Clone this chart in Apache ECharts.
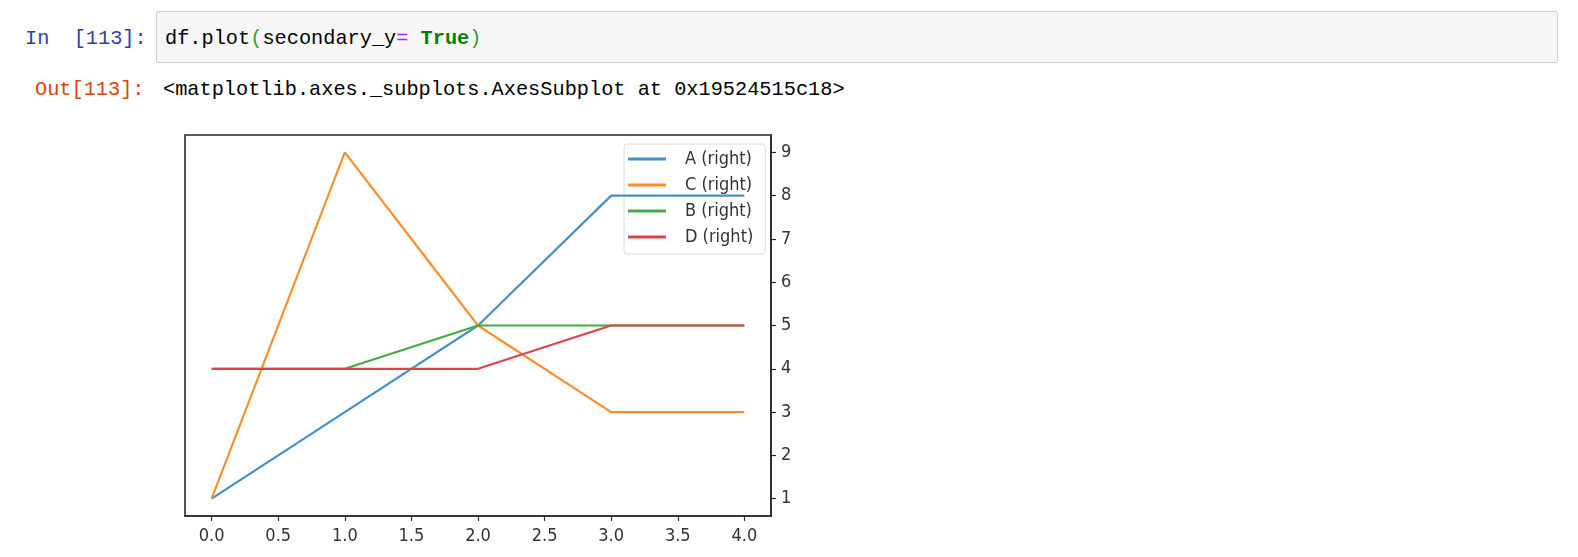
<!DOCTYPE html>
<html>
<head>
<meta charset="utf-8">
<script src="https://cdn.jsdelivr.net/npm/echarts@6/dist/echarts.min.js"></script>
<style>
    body { margin: 0; background: #fff; }
    .page { position: relative; width: 1578px; height: 557px; overflow: hidden; }
    .mono { font-family: "Liberation Mono", "DejaVu Sans Mono", monospace; font-size: 20.3px; position: absolute; white-space: pre; }
    .inPrompt { left: 25px; top: 27px; color: #303F9F; }
    .outPrompt { left: 35px; top: 78px; color: #D84315; }
    .inputBox { position: absolute; left: 156px; top: 11px; width: 1400px; height: 50px; background: #f7f7f7; border: 1px solid #cfcfcf; border-radius: 2px; }
    .code { left: 165px; top: 27px; color: #000; }
    .outText { left: 163px; top: 78px; color: #000; }
    #chart { position: absolute; left: 0; top: 0; width: 1578px; height: 557px; }
</style>
</head>
<body>
<div class="page">
    <div class="mono inPrompt">In  [113]:</div>
    <div class="inputBox"></div>
    <div class="mono code">df.plot<span style="color:#2a9d2a">(</span>secondary_y<span style="color:#AA22FF">=</span> <b style="color:#008000">True</b><span style="color:#2a9d2a">)</span></div>
    <div class="mono outPrompt">Out[113]:</div>
    <div class="mono outText">&lt;matplotlib.axes._subplots.AxesSubplot at 0x19524515c18&gt;</div>
    <div id="chart"></div>
</div>
<script>
    // 数据
    var xValues = [0, 1, 2, 3, 4];
    var seriesA = [1, 3, 5, 8, 8];
    var seriesC = [1, 9, 5, 3, 3];
    var seriesB = [4, 4, 5, 5, 5];
    var seriesD = [4, 4, 4, 5, 5];
    var xTicks = [0, 0.5, 1, 1.5, 2, 2.5, 3, 3.5, 4];
    var yTicks = [1, 2, 3, 4, 5, 6, 7, 8, 9];
    var names = ['A (right)', 'C (right)', 'B (right)', 'D (right)'];
    var colors = ['#4690c6', '#ff8d2b', '#44aa44', '#dd4445'];

    function pairs(vals) {
        return xValues.map(function (x, i) { return [x, vals[i]]; });
    }

    var myChart = echarts.init(document.getElementById('chart'));
    var labelStyle = { fontFamily: '"DejaVu Sans Condensed", "DejaVu Sans"', fontSize: 18, color: '#333' };
    myChart.setOption({
        animation: false,
        grid: {
            left: 185, right: 807, top: 135, bottom: 41,
            show: true, borderColor: '#2a2a2a', borderWidth: 1.6
        },
        legend: {
            data: names,
            orient: 'vertical',
            left: 624,
            top: 144,
            z: 1,
            icon: 'rect',
            itemWidth: 38,
            itemHeight: 3,
            itemGap: 6,
            padding: [5, 12, 7, 4],
            backgroundColor: 'rgba(255,255,255,0.3)',
            borderColor: '#dcdcdc',
            borderWidth: 1,
            borderRadius: 3,
            textStyle: { fontFamily: '"DejaVu Sans Condensed", "DejaVu Sans"', fontSize: 18, color: '#333', lineHeight: 20, padding: [0, 0, 0, 14] }
        },
        xAxis: {
            type: 'value',
            min: -0.2,
            max: 4.2,
            splitLine: { show: false },
            axisLine: { onZero: false, lineStyle: { color: '#2a2a2a', width: 1.6 } },
            axisTick: { show: true, length: 5, lineStyle: { color: '#2a2a2a', width: 1.2 }, customValues: xTicks },
            axisLabel: Object.assign({ margin: 11, customValues: xTicks, formatter: function (v) { return v.toFixed(1); } }, labelStyle)
        },
        yAxis: {
            type: 'value',
            position: 'right',
            min: 0.6,
            max: 9.4,
            splitLine: { show: false },
            axisLine: { show: true, onZero: false, lineStyle: { color: '#2a2a2a', width: 1.6 } },
            axisTick: { show: true, length: 5, lineStyle: { color: '#2a2a2a', width: 1.2 }, customValues: yTicks },
            axisLabel: Object.assign({ margin: 10, customValues: yTicks }, labelStyle)
        },
        series: [
            { name: names[0], type: 'line', z: 3, data: pairs(seriesA), symbol: 'none', lineStyle: { width: 2.2, color: colors[0] }, itemStyle: { color: colors[0] } },
            { name: names[1], type: 'line', z: 3, data: pairs(seriesC), symbol: 'none', lineStyle: { width: 2.2, color: colors[1] }, itemStyle: { color: colors[1] } },
            { name: names[2], type: 'line', z: 3, data: pairs(seriesB), symbol: 'none', lineStyle: { width: 2.2, color: colors[2] }, itemStyle: { color: colors[2] } },
            { name: names[3], type: 'line', z: 3, data: pairs(seriesD), symbol: 'none', lineStyle: { width: 2.2, color: colors[3] }, itemStyle: { color: colors[3] } }
        ]
    });
</script>
</body>
</html>
